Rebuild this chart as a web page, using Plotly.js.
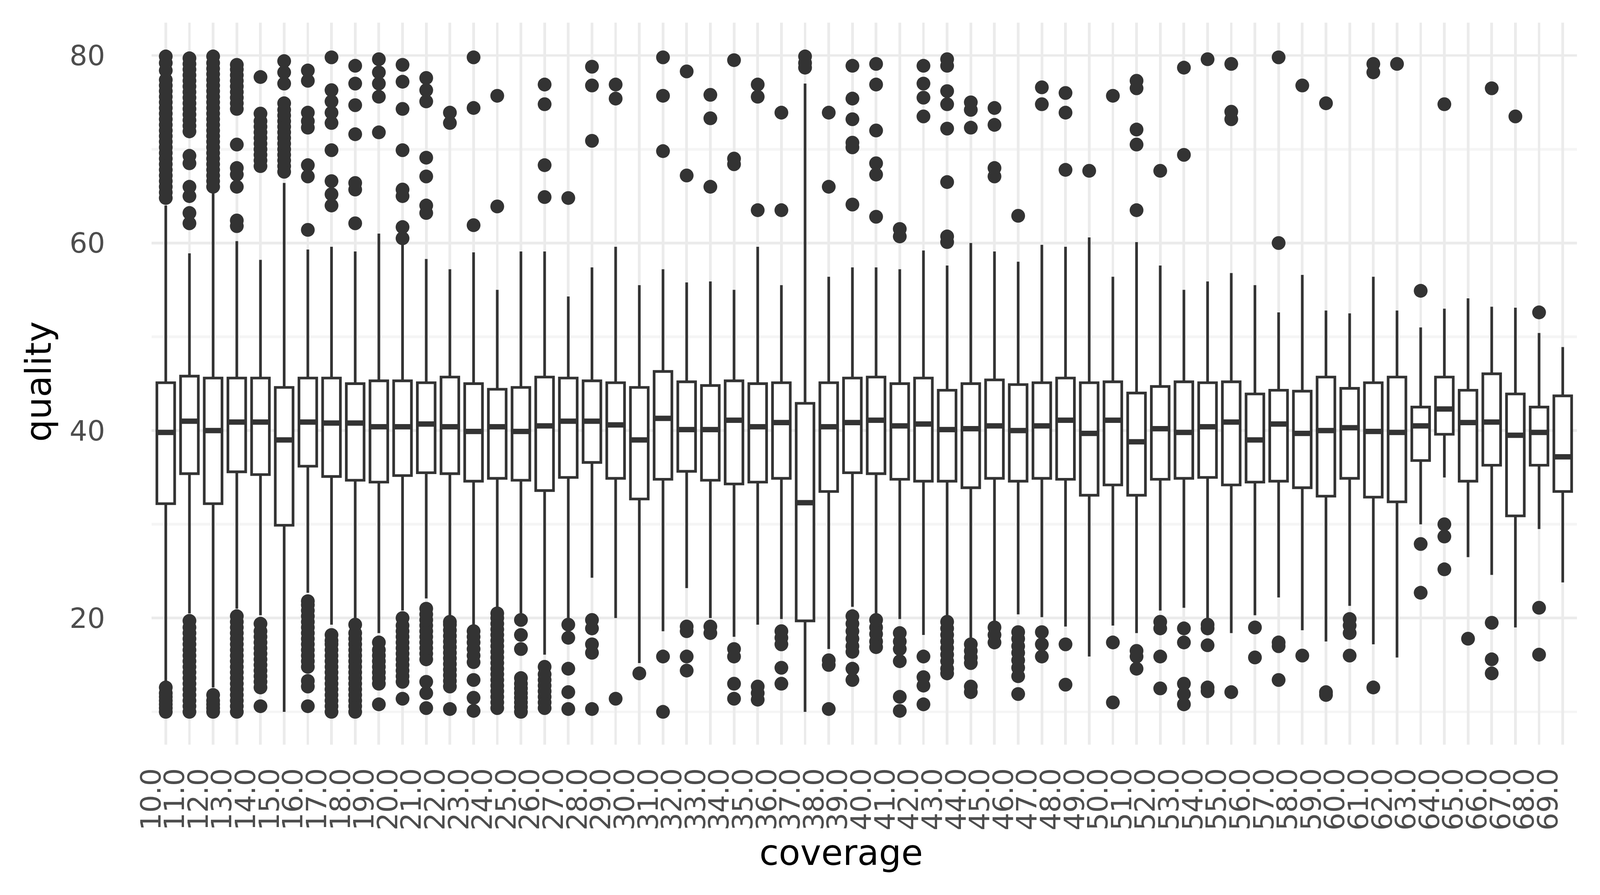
<!DOCTYPE html>
<html>
<head>
<meta charset="utf-8">
<script src="https://cdn.plot.ly/plotly-3.0.1.min.js"></script>
<style>html,body{margin:0;padding:0;background:#ffffff;overflow:hidden;}#chart{width:100vw;height:100vh;}</style>
</head>
<body>
<div id="chart"></div>
<script>
const coverage = ["10.0","11.0","12.0","13.0","14.0","15.0","16.0","17.0","18.0","19.0",
"20.0","21.0","22.0","23.0","24.0","25.0","26.0","27.0","28.0","29.0",
"30.0","31.0","32.0","33.0","34.0","35.0","36.0","37.0","38.0","39.0",
"40.0","41.0","42.0","43.0","44.0","45.0","46.0","47.0","48.0","49.0",
"50.0","51.0","52.0","53.0","54.0","55.0","56.0","57.0","58.0","59.0",
"60.0","61.0","62.0","63.0","64.0","65.0","66.0","67.0","68.0","69.0"];

const q1 = [32.2,35.4,32.2,35.6,35.3,29.9,36.2,35.1,34.7,34.5,
35.2,35.5,35.4,34.6,34.9,34.7,33.6,35.0,36.6,34.9,
32.7,34.8,35.65,34.7,34.3,34.5,34.9,19.7,33.5,35.5,
35.4,34.8,34.6,34.6,33.9,34.9,34.6,34.9,34.8,33.1,
34.2,33.1,34.8,34.9,35.0,34.2,34.5,34.6,33.9,33.0,
34.9,32.9,32.4,36.8,39.6,34.6,36.3,30.9,36.3,33.5];

const median = [39.8,41.0,40.0,40.9,40.9,39.0,40.9,40.8,40.8,40.4,
40.4,40.7,40.4,39.9,40.4,39.9,40.5,41.0,41.0,40.6,
39.0,41.3,40.1,40.1,41.1,40.4,40.85,32.3,40.4,40.85,
41.1,40.5,40.7,40.1,40.2,40.5,40.0,40.5,41.1,39.7,
41.1,38.8,40.2,39.8,40.4,40.9,39.0,40.7,39.7,40.0,
40.3,39.9,39.8,40.5,42.3,40.85,40.9,39.5,39.8,37.2];

const q3 = [45.1,45.8,45.6,45.6,45.6,44.6,45.6,45.6,45.0,45.3,
45.3,45.1,45.7,45.0,44.4,44.6,45.7,45.6,45.3,45.1,
44.6,46.3,45.2,44.8,45.3,45.0,45.1,42.9,45.1,45.6,
45.7,45.0,45.6,44.3,45.0,45.4,44.9,45.1,45.6,45.1,
45.2,44.0,44.7,45.2,45.1,45.2,43.9,44.3,44.2,45.7,
44.5,45.1,45.7,42.5,45.7,44.3,46.05,43.9,42.5,43.7];

const lowerWhisker = [13.3,20.5,12.6,21.0,20.3,10.0,22.7,19.3,20.0,18.4,
20.8,22.1,20.3,19.3,21.2,20.5,16.1,20.0,24.3,20.0,
15.2,18.6,23.2,20.0,18.0,19.3,19.9,10.0,16.7,21.2,
20.5,19.9,18.2,20.3,17.9,19.7,20.4,20.1,19.1,15.9,
19.2,18.4,20.8,21.1,20.0,18.4,20.3,22.2,18.7,17.5,
21.3,17.2,15.8,30.0,35.0,26.5,24.6,19.0,29.5,23.8];

const upperWhisker = [64.0,58.9,65.3,60.2,58.2,66.4,59.3,59.6,59.1,61.0,
59.8,58.3,57.2,59.0,55.0,59.1,59.1,54.3,57.4,59.6,
55.5,57.2,55.8,55.9,55.0,59.6,55.5,77.0,56.4,57.4,
57.4,57.2,59.2,57.6,60.0,59.1,58.0,59.8,59.6,60.6,
56.4,60.1,57.6,55.0,55.9,56.8,55.5,52.6,56.6,52.8,
52.5,56.4,52.8,51.0,53.0,54.1,53.2,53.1,50.4,48.9];

const outliers = [
 [10.0,10.4,10.8,11.2,11.6,12.0,12.6,64.8,65.4,66.0,66.6,67.2,67.8,68.4,69.0,69.6,70.2,70.8,71.4,72.0,72.6,73.2,73.8,74.4,75.0,75.6,76.2,76.8,77.4,78.4,79.2,79.9],
 [10.0,10.6,11.2,11.8,12.4,13.0,13.6,14.2,14.8,15.4,16.0,16.6,17.2,17.8,18.4,19.0,19.7,62.1,63.2,65.0,66.0,68.5,69.3,71.9,72.5,73.1,73.7,74.3,74.9,75.5,76.1,76.7,77.3,77.9,78.5,79.1,79.7],
 [10.0,10.4,10.8,11.2,11.8,66.0,66.6,67.2,67.8,68.4,69.0,69.6,70.2,70.8,71.4,72.0,72.6,73.2,73.8,74.4,75.0,75.6,76.2,76.8,77.4,78.0,78.6,79.2,79.9],
 [10.0,10.6,11.2,11.8,12.4,13.0,13.6,14.2,14.8,15.4,16.0,16.6,17.2,17.8,18.4,19.0,19.6,20.2,61.8,62.4,66.0,67.3,68.0,70.5,74.3,74.9,75.5,76.1,76.7,77.3,77.9,78.5,79.0],
 [10.6,12.6,13.2,13.8,14.4,15.0,15.6,16.2,16.8,17.4,18.0,18.6,19.4,68.2,68.8,69.4,70.0,70.6,71.2,71.8,72.4,73.0,73.8,77.7],
 [67.6,68.2,68.8,69.4,70.0,70.6,71.2,71.8,72.4,73.0,73.6,74.2,74.9,77.0,78.2,79.4],
 [10.6,12.7,13.3,14.8,15.4,16.0,16.6,17.2,17.8,18.4,19.0,19.6,20.2,20.8,21.4,21.8,61.4,67.1,68.3,72.3,73.0,73.9,77.3,78.4],
 [10.0,10.6,11.2,11.8,12.4,13.0,13.6,14.2,14.8,15.4,16.0,16.6,17.2,17.6,18.2,64.0,65.2,66.6,69.9,72.8,73.9,75.1,76.3,79.8],
 [10.0,10.6,11.2,11.8,12.4,13.0,13.6,14.2,14.8,15.4,16.0,16.6,17.2,17.8,18.4,19.3,62.1,65.7,66.4,71.6,74.7,77.0,78.9],
 [10.8,13.0,13.6,14.2,14.8,15.4,16.0,16.6,17.4,71.8,75.6,77.0,78.2,79.6],
 [11.4,13.2,13.8,14.4,15.0,15.6,16.2,16.8,17.4,18.0,18.6,19.2,20.0,60.5,61.7,65.0,65.7,69.9,74.3,77.2,79.0],
 [10.4,12.0,13.2,15.6,16.2,16.8,17.4,18.0,18.6,19.2,19.8,20.4,21.0,63.2,64.0,67.1,69.1,75.1,76.3,77.6],
 [10.3,12.7,13.3,13.9,14.5,15.1,15.7,16.3,16.9,17.5,18.1,18.7,19.3,19.6,72.8,73.9],
 [10.1,11.5,13.4,15.3,16.0,16.7,17.4,18.0,18.6,61.9,74.4,79.8],
 [10.4,11.0,11.6,12.2,12.8,13.4,14.0,14.6,15.2,15.8,16.4,17.0,17.6,18.2,18.8,19.4,20.0,20.5,63.9,75.7],
 [10.0,10.5,11.0,11.5,12.0,12.5,13.0,13.6,16.7,18.2,19.8],
 [10.4,11.0,11.6,12.2,12.8,13.4,14.0,14.8,64.9,68.3,74.8,76.9],
 [10.3,12.1,14.6,17.9,19.3,64.8],
 [10.3,16.3,17.2,18.9,19.8,70.9,76.8,78.8],
 [11.4,75.4,76.9],
 [14.1],
 [10.0,15.9,69.8,75.7,79.8],
 [14.4,15.9,18.6,19.1,67.2,78.3],
 [18.4,19.1,66.0,73.3,75.8],
 [11.4,13.0,15.9,16.7,68.4,69.0,79.5],
 [11.3,12.0,12.7,63.5,75.6,76.9],
 [13.0,14.7,17.2,17.9,18.6,63.5,73.9],
 [78.7,79.2,79.9],
 [10.3,15.0,15.5,66.0,73.9],
 [13.4,14.6,16.4,17.0,17.8,18.6,19.4,20.2,64.1,70.2,70.7,73.2,75.4,78.9],
 [16.9,17.5,18.3,19.0,19.8,62.8,67.3,68.5,72.0,76.9,79.1],
 [10.1,11.6,15.4,16.7,17.5,18.4,60.7,61.5],
 [10.8,12.8,13.7,15.9,73.5,75.5,77.0,78.9],
 [14.1,14.6,15.4,16.1,16.8,17.5,18.2,18.9,19.6,60.1,60.7,66.5,72.2,74.8,76.2,78.9,79.6],
 [12.1,12.7,15.2,15.8,16.5,17.2,72.3,74.2,75.0],
 [17.4,18.2,19.0,67.1,68.0,72.6,74.4],
 [11.9,13.8,14.7,15.5,16.3,17.0,17.8,18.5,62.9],
 [15.9,17.2,18.5,74.8,76.6],
 [12.9,17.2,67.8,73.9,76.0],
 [67.7],
 [11.0,17.4,75.7],
 [14.6,15.9,16.5,63.5,70.5,72.1,76.5,77.3],
 [12.5,15.9,18.9,19.6,67.7],
 [10.8,11.9,13.0,17.4,18.9,69.4,78.7],
 [12.2,12.6,17.1,18.9,19.3,79.6],
 [12.1,73.2,74.0,79.1],
 [15.8,19.0],
 [13.4,17.0,17.4,60.0,79.8],
 [16.0,76.8],
 [11.8,12.1,74.9],
 [16.0,18.4,19.2,19.9],
 [12.6,78.2,79.1],
 [79.1],
 [22.7,27.9,54.9],
 [25.2,28.7,30.0,74.8],
 [17.8],
 [14.1,15.6,19.5,76.5],
 [73.5],
 [16.1,21.1,52.6],
 []
];

const yTickValues = [20, 40, 60, 80];
const yTickText = ["20", "40", "60", "80"];
const yMinorValues = [10, 30, 50, 70];
const xTitle = "coverage";
const yTitle = "quality";

// fit the design (4176 x 2292) to the actual viewport
const W = window.innerWidth || 4176;
const H = window.innerHeight || 2292;
const sx = W / 4176, sy = H / 2292, s = Math.min(sx, sy);

const outX = [], outY = [];
coverage.forEach((c, i) => outliers[i].forEach(v => { outX.push(c); outY.push(v); }));

const dark = '#333333';
const boxWidthPx = 0.75 * (3720 * sx) / 60.2; // box width in px (0.75 of a category step)
const boxTrace = {
  type: 'box', x: coverage, q1: q1, median: median, q3: q3,
  lowerfence: lowerWhisker, upperfence: upperWhisker,
  boxpoints: false, fillcolor: '#FFFFFF',
  line: {color: dark, width: 7 * s}, whiskerwidth: 0,
  hoverinfo: 'skip', showlegend: false
};
const medianTrace = {
  type: 'scatter', mode: 'markers', x: coverage, y: median,
  marker: {symbol: 'line-ew', size: boxWidthPx / 1.4, color: dark, line: {width: 14 * s, color: dark}},
  hoverinfo: 'skip', showlegend: false
};
const outlierTrace = {
  type: 'scatter', mode: 'markers', x: outX, y: outY,
  marker: {size: 36 * s, color: dark, line: {width: 0}},
  hoverinfo: 'skip', showlegend: false
};

const layout = {
  width: W, height: H,
  margin: {l: 396 * sx, r: 60 * sx, t: 58 * sy, b: 385 * sy, pad: 0},
  paper_bgcolor: '#FFFFFF', plot_bgcolor: '#FFFFFF',
  boxgap: 0.25, boxgroupgap: 0, showlegend: false,
  font: {family: 'DejaVu Sans', color: '#4D4D4D'},
  xaxis: {
    type: 'category', categoryorder: 'array', categoryarray: coverage,
    range: [-0.6, 59.6], autorange: false,
    tickmode: 'array', tickvals: coverage, ticktext: coverage,
    tickangle: -90, tickfont: {family: 'DejaVu Sans', size: 73 * s, color: '#4D4D4D'},
    ticklabelshift: Math.round(-38 * sx), ticklabelstandoff: Math.round(45 * sy),
    showgrid: true, gridcolor: '#EBEBEB', gridwidth: 7 * s,
    zeroline: false, showline: false, ticks: ''
  },
  yaxis: {
    range: [6.5, 83.5], autorange: false,
    tickmode: 'array', tickvals: yTickValues, ticktext: yTickText,
    tickfont: {family: 'DejaVu Sans', size: 73 * s, color: '#4D4D4D'},
    ticklabelstandoff: Math.round(120 * sx),
    showgrid: true, gridcolor: '#EBEBEB', gridwidth: 7 * s,
    minor: {tickmode: 'array', tickvals: yMinorValues, showgrid: true, gridcolor: '#F5F5F5', gridwidth: 7 * s},
    zeroline: false, showline: false, ticks: ''
  },
  annotations: [
    {text: yTitle, xref: 'paper', yref: 'paper', x: -0.0793, y: 0.503,
     xanchor: 'center', yanchor: 'middle', textangle: -90, showarrow: false,
     font: {family: 'DejaVu Sans', size: 92 * s, color: '#000000'}},
    {text: xTitle, xref: 'paper', yref: 'paper', x: 0.4839, y: -0.1498,
     xanchor: 'center', yanchor: 'middle', showarrow: false,
     font: {family: 'DejaVu Sans', size: 92 * s, color: '#000000'}}
  ]
};

Plotly.newPlot('chart', [boxTrace, medianTrace, outlierTrace], layout, {displayModeBar: false, staticPlot: true});
</script>
</body>
</html>
